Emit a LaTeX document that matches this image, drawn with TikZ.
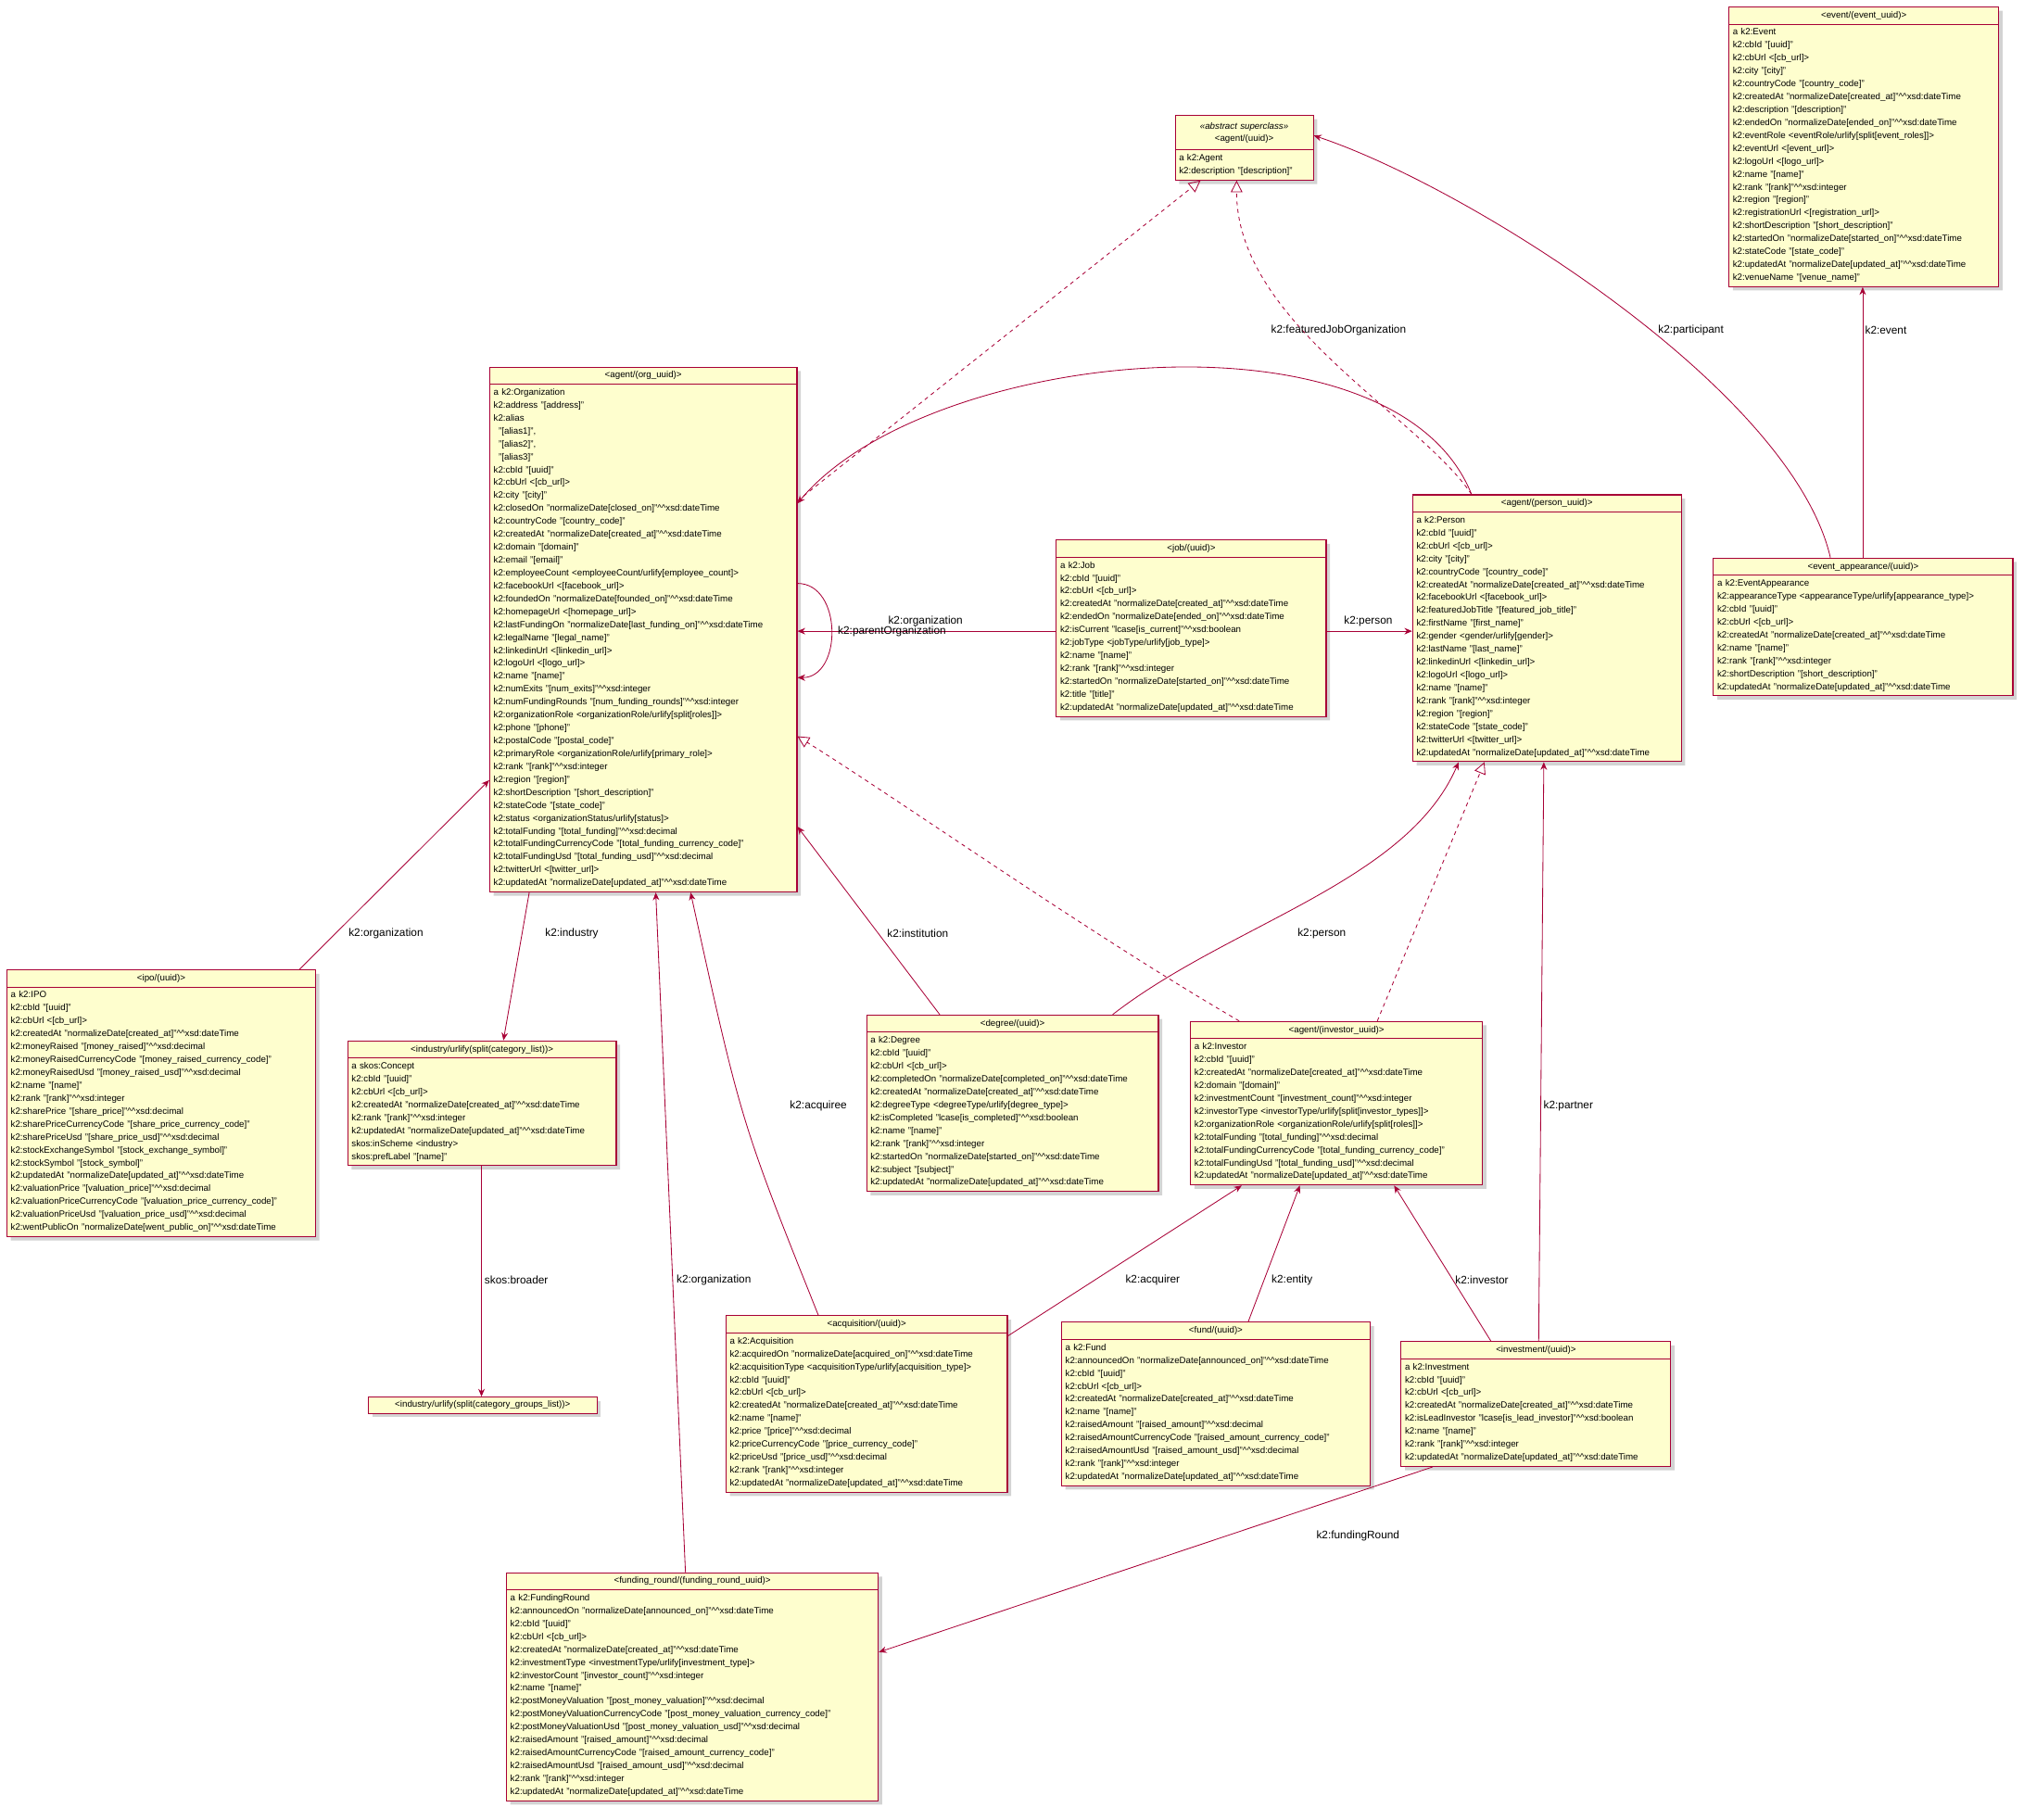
\documentclass[tikz,border=0pt]{standalone}
\usepackage{fontspec}
\setmainfont{Liberation Sans}
\usetikzlibrary{shapes.multipart,arrows.meta,shadows,calc}
\definecolor{cfill}{HTML}{FEFECE}
\definecolor{bord}{HTML}{A80036}
\catcode`\_=12
\catcode`\^=12
\newcommand\umlbox[6]{%
  \node[cls, text width=#4pt-6pt] (#1) at (#2,#3) {\makebox[\hsize][c]{#5}\nodepart{two}#6};}
\tikzset{
  cls/.style={rectangle split, rectangle split parts=2, draw=bord, fill=cfill, line width=0.8pt,
    anchor=north west, font=\fontsize{7}{10}\selectfont, inner xsep=3pt, inner ysep=3pt,
    execute at begin node=\setlength\parindent{0pt},
    drop shadow={opacity=0.35, shadow xshift=3pt, shadow yshift=-3pt}},
  assoc/.style={draw=bord, line width=0.6pt, -{Stealth[length=6pt,width=5pt]}},
  gen/.style={draw=bord, line width=0.6pt, dashed, -{Triangle[open,length=9pt,width=9pt]}},
  lbl/.style={font=\fontsize{8.5}{10}\selectfont, inner sep=1pt}
}
\begin{document}
\begin{tikzpicture}[x=1pt,y=-1pt]
\useasboundingbox (0,0) rectangle (1568,1410);

\umlbox{event}{1339}{5}{209}{<event/(event_uuid)>}{a k2:Event\\
k2:cbId "[uuid]"\\
k2:cbUrl <[cb_url]>\\
k2:city "[city]"\\
k2:countryCode "[country_code]"\\
k2:createdAt "normalizeDate[created_at]"^^xsd:dateTime\\
k2:description "[description]"\\
k2:endedOn "normalizeDate[ended_on]"^^xsd:dateTime\\
k2:eventRole <eventRole/urlify[split[event_roles]]>\\
k2:eventUrl <[event_url]>\\
k2:logoUrl <[logo_url]>\\
k2:name "[name]"\\
k2:rank "[rank]"^^xsd:integer\\
k2:region "[region]"\\
k2:registrationUrl <[registration_url]>\\
k2:shortDescription "[short_description]"\\
k2:startedOn "normalizeDate[started_on]"^^xsd:dateTime\\
k2:stateCode "[state_code]"\\
k2:updatedAt "normalizeDate[updated_at]"^^xsd:dateTime\\
k2:venueName "[venue_name]"}

\umlbox{abs}{910}{89}{107}{\begin{tabular}{@{}c@{}}\textit{«abstract superclass»}\\<agent/(uuid)>\end{tabular}}{a k2:Agent\\
k2:description "[description]"}

\umlbox{org}{379}{284}{238}{<agent/(org_uuid)>}{a k2:Organization\\
k2:address "[address]"\\
k2:alias\\
\hspace*{4pt}"[alias1]",\\
\hspace*{4pt}"[alias2]",\\
\hspace*{4pt}"[alias3]"\\
k2:cbId "[uuid]"\\
k2:cbUrl <[cb_url]>\\
k2:city "[city]"\\
k2:closedOn "normalizeDate[closed_on]"^^xsd:dateTime\\
k2:countryCode "[country_code]"\\
k2:createdAt "normalizeDate[created_at]"^^xsd:dateTime\\
k2:domain "[domain]"\\
k2:email "[email]"\\
k2:employeeCount <employeeCount/urlify[employee_count]>\\
k2:facebookUrl <[facebook_url]>\\
k2:foundedOn "normalizeDate[founded_on]"^^xsd:dateTime\\
k2:homepageUrl <[homepage_url]>\\
k2:lastFundingOn "normalizeDate[last_funding_on]"^^xsd:dateTime\\
k2:legalName "[legal_name]"\\
k2:linkedinUrl <[linkedin_url]>\\
k2:logoUrl <[logo_url]>\\
k2:name "[name]"\\
k2:numExits "[num_exits]"^^xsd:integer\\
k2:numFundingRounds "[num_funding_rounds]"^^xsd:integer\\
k2:organizationRole <organizationRole/urlify[split[roles]]>\\
k2:phone "[phone]"\\
k2:postalCode "[postal_code]"\\
k2:primaryRole <organizationRole/urlify[primary_role]>\\
k2:rank "[rank]"^^xsd:integer\\
k2:region "[region]"\\
k2:shortDescription "[short_description]"\\
k2:stateCode "[state_code]"\\
k2:status <organizationStatus/urlify[status]>\\
k2:totalFunding "[total_funding]"^^xsd:decimal\\
k2:totalFundingCurrencyCode "[total_funding_currency_code]"\\
k2:totalFundingUsd "[total_funding_usd]"^^xsd:decimal\\
k2:twitterUrl <[twitter_url]>\\
k2:updatedAt "normalizeDate[updated_at]"^^xsd:dateTime}

\umlbox{job}{818}{418}{209}{<job/(uuid)>}{a k2:Job\\
k2:cbId "[uuid]"\\
k2:cbUrl <[cb_url]>\\
k2:createdAt "normalizeDate[created_at]"^^xsd:dateTime\\
k2:endedOn "normalizeDate[ended_on]"^^xsd:dateTime\\
k2:isCurrent "lcase[is_current]"^^xsd:boolean\\
k2:jobType <jobType/urlify[job_type]>\\
k2:name "[name]"\\
k2:rank "[rank]"^^xsd:integer\\
k2:startedOn "normalizeDate[started_on]"^^xsd:dateTime\\
k2:title "[title]"\\
k2:updatedAt "normalizeDate[updated_at]"^^xsd:dateTime}

\umlbox{person}{1094}{383}{208}{<agent/(person_uuid)>}{a k2:Person\\
k2:cbId "[uuid]"\\
k2:cbUrl <[cb_url]>\\
k2:city "[city]"\\
k2:countryCode "[country_code]"\\
k2:createdAt "normalizeDate[created_at]"^^xsd:dateTime\\
k2:facebookUrl <[facebook_url]>\\
k2:featuredJobTitle "[featured_job_title]"\\
k2:firstName "[first_name]"\\
k2:gender <gender/urlify[gender]>\\
k2:lastName "[last_name]"\\
k2:linkedinUrl <[linkedin_url]>\\
k2:logoUrl <[logo_url]>\\
k2:name "[name]"\\
k2:rank "[rank]"^^xsd:integer\\
k2:region "[region]"\\
k2:stateCode "[state_code]"\\
k2:twitterUrl <[twitter_url]>\\
k2:updatedAt "normalizeDate[updated_at]"^^xsd:dateTime}

\umlbox{evapp}{1327}{432}{232}{<event_appearance/(uuid)>}{a k2:EventAppearance\\
k2:appearanceType <appearanceType/urlify[appearance_type]>\\
k2:cbId "[uuid]"\\
k2:cbUrl <[cb_url]>\\
k2:createdAt "normalizeDate[created_at]"^^xsd:dateTime\\
k2:name "[name]"\\
k2:rank "[rank]"^^xsd:integer\\
k2:shortDescription "[short_description]"\\
k2:updatedAt "normalizeDate[updated_at]"^^xsd:dateTime}

\umlbox{ipo}{5}{751}{239}{<ipo/(uuid)>}{a k2:IPO\\
k2:cbId "[uuid]"\\
k2:cbUrl <[cb_url]>\\
k2:createdAt "normalizeDate[created_at]"^^xsd:dateTime\\
k2:moneyRaised "[money_raised]"^^xsd:decimal\\
k2:moneyRaisedCurrencyCode "[money_raised_currency_code]"\\
k2:moneyRaisedUsd "[money_raised_usd]"^^xsd:decimal\\
k2:name "[name]"\\
k2:rank "[rank]"^^xsd:integer\\
k2:sharePrice "[share_price]"^^xsd:decimal\\
k2:sharePriceCurrencyCode "[share_price_currency_code]"\\
k2:sharePriceUsd "[share_price_usd]"^^xsd:decimal\\
k2:stockExchangeSymbol "[stock_exchange_symbol]"\\
k2:stockSymbol "[stock_symbol]"\\
k2:updatedAt "normalizeDate[updated_at]"^^xsd:dateTime\\
k2:valuationPrice "[valuation_price]"^^xsd:decimal\\
k2:valuationPriceCurrencyCode "[valuation_price_currency_code]"\\
k2:valuationPriceUsd "[valuation_price_usd]"^^xsd:decimal\\
k2:wentPublicOn "normalizeDate[went_public_on]"^^xsd:dateTime}

\umlbox{ind}{269}{806}{208}{<industry/urlify(split(category_list))>}{a skos:Concept\\
k2:cbId "[uuid]"\\
k2:cbUrl <[cb_url]>\\
k2:createdAt "normalizeDate[created_at]"^^xsd:dateTime\\
k2:rank "[rank]"^^xsd:integer\\
k2:updatedAt "normalizeDate[updated_at]"^^xsd:dateTime\\
skos:inScheme <industry>\\
skos:prefLabel "[name]"}

\node[draw=bord, fill=cfill, line width=0.8pt, anchor=north west, font=\fontsize{7}{10}\selectfont,
  inner xsep=3pt, inner ysep=3pt, minimum width=177pt,
  drop shadow={opacity=0.35, shadow xshift=3pt, shadow yshift=-3pt}] (indg) at (285,1082)
  {<industry/urlify(split(category_groups_list))>};

\umlbox{deg}{671}{786}{226}{<degree/(uuid)>}{a k2:Degree\\
k2:cbId "[uuid]"\\
k2:cbUrl <[cb_url]>\\
k2:completedOn "normalizeDate[completed_on]"^^xsd:dateTime\\
k2:createdAt "normalizeDate[created_at]"^^xsd:dateTime\\
k2:degreeType <degreeType/urlify[degree_type]>\\
k2:isCompleted "lcase[is_completed]"^^xsd:boolean\\
k2:name "[name]"\\
k2:rank "[rank]"^^xsd:integer\\
k2:startedOn "normalizeDate[started_on]"^^xsd:dateTime\\
k2:subject "[subject]"\\
k2:updatedAt "normalizeDate[updated_at]"^^xsd:dateTime}

\umlbox{inv}{922}{791}{226}{<agent/(investor_uuid)>}{a k2:Investor\\
k2:cbId "[uuid]"\\
k2:createdAt "normalizeDate[created_at]"^^xsd:dateTime\\
k2:domain "[domain]"\\
k2:investmentCount "[investment_count]"^^xsd:integer\\
k2:investorType <investorType/urlify[split[investor_types]]>\\
k2:organizationRole <organizationRole/urlify[split[roles]]>\\
k2:totalFunding "[total_funding]"^^xsd:decimal\\
k2:totalFundingCurrencyCode "[total_funding_currency_code]"\\
k2:totalFundingUsd "[total_funding_usd]"^^xsd:decimal\\
k2:updatedAt "normalizeDate[updated_at]"^^xsd:dateTime}

\umlbox{acq}{562}{1019}{218}{<acquisition/(uuid)>}{a k2:Acquisition\\
k2:acquiredOn "normalizeDate[acquired_on]"^^xsd:dateTime\\
k2:acquisitionType <acquisitionType/urlify[acquisition_type]>\\
k2:cbId "[uuid]"\\
k2:cbUrl <[cb_url]>\\
k2:createdAt "normalizeDate[created_at]"^^xsd:dateTime\\
k2:name "[name]"\\
k2:price "[price]"^^xsd:decimal\\
k2:priceCurrencyCode "[price_currency_code]"\\
k2:priceUsd "[price_usd]"^^xsd:decimal\\
k2:rank "[rank]"^^xsd:integer\\
k2:updatedAt "normalizeDate[updated_at]"^^xsd:dateTime}

\umlbox{fund}{822}{1024}{239}{<fund/(uuid)>}{a k2:Fund\\
k2:announcedOn "normalizeDate[announced_on]"^^xsd:dateTime\\
k2:cbId "[uuid]"\\
k2:cbUrl <[cb_url]>\\
k2:createdAt "normalizeDate[created_at]"^^xsd:dateTime\\
k2:name "[name]"\\
k2:raisedAmount "[raised_amount]"^^xsd:decimal\\
k2:raisedAmountCurrencyCode "[raised_amount_currency_code]"\\
k2:raisedAmountUsd "[raised_amount_usd]"^^xsd:decimal\\
k2:rank "[rank]"^^xsd:integer\\
k2:updatedAt "normalizeDate[updated_at]"^^xsd:dateTime}

\umlbox{invm}{1085}{1039}{209}{<investment/(uuid)>}{a k2:Investment\\
k2:cbId "[uuid]"\\
k2:cbUrl <[cb_url]>\\
k2:createdAt "normalizeDate[created_at]"^^xsd:dateTime\\
k2:isLeadInvestor "lcase[is_lead_investor]"^^xsd:boolean\\
k2:name "[name]"\\
k2:rank "[rank]"^^xsd:integer\\
k2:updatedAt "normalizeDate[updated_at]"^^xsd:dateTime}

\umlbox{fr}{392}{1218}{288}{<funding_round/(funding_round_uuid)>}{a k2:FundingRound\\
k2:announcedOn "normalizeDate[announced_on]"^^xsd:dateTime\\
k2:cbId "[uuid]"\\
k2:cbUrl <[cb_url]>\\
k2:createdAt "normalizeDate[created_at]"^^xsd:dateTime\\
k2:investmentType <investmentType/urlify[investment_type]>\\
k2:investorCount "[investor_count]"^^xsd:integer\\
k2:name "[name]"\\
k2:postMoneyValuation "[post_money_valuation]"^^xsd:decimal\\
k2:postMoneyValuationCurrencyCode "[post_money_valuation_currency_code]"\\
k2:postMoneyValuationUsd "[post_money_valuation_usd]"^^xsd:decimal\\
k2:raisedAmount "[raised_amount]"^^xsd:decimal\\
k2:raisedAmountCurrencyCode "[raised_amount_currency_code]"\\
k2:raisedAmountUsd "[raised_amount_usd]"^^xsd:decimal\\
k2:rank "[rank]"^^xsd:integer\\
k2:updatedAt "normalizeDate[updated_at]"^^xsd:dateTime}

% generalizations
\draw[gen] ([yshift=-104pt]org.north east) -- ([xshift=20pt]abs.south west);
\draw[gen] ([xshift=46pt]person.north west) .. controls +(-40,-60) and +(0,110) .. ([xshift=48pt]abs.south west);
\draw[gen] ([xshift=38pt]inv.north west) .. controls +(-120,-70) and +(80,50) .. ([yshift=121pt]org.south east);
\draw[gen] ([xshift=145pt]inv.north west) -- ([xshift=56pt]person.south west);

% associations
\draw[assoc] ([xshift=46pt]person.north west) .. controls +(-60,-150) and +(100,-120) .. ([yshift=-106pt]org.north east);
\draw[assoc] ([xshift=91pt]evapp.north west) .. controls +(-30,-130) and +(120,40) .. ([yshift=-16pt]abs.north east);
\draw[assoc] ([xshift=116pt]evapp.north west) -- ([xshift=116pt]evapp.north west |- event.south);
\draw[assoc] ([yshift=-168pt]org.north east) .. controls +(35,0) and +(35,0) .. ([yshift=-241pt]org.north east);
\draw[assoc] ([yshift=-71pt]job.north west) -- ([yshift=-71pt]job.north west -| org.east);
\draw[assoc] ([yshift=-71pt]job.north east) -- ([yshift=-71pt]job.north east -| person.west);
\draw[assoc] ([xshift=227pt]ipo.north west) -- ([yshift=87pt]org.south west);
\draw[assoc] ([xshift=31pt]org.south west) -- ([xshift=121pt]ind.north west);
\draw[assoc] ([xshift=104pt]ind.south west) -- ([xshift=104pt]ind.south west |- indg.north);
\draw[assoc] ([xshift=57pt]deg.north west) -- ([yshift=51pt]org.south east);
\draw[assoc] ([xshift=191pt]deg.north west) .. controls +(90,-70) and +(-40,93) .. ([xshift=36pt]person.south west);
\draw[assoc] ([xshift=72pt]acq.north west) .. controls +(-60,-150) .. ([xshift=156pt]org.south west);
\draw[assoc] ([xshift=139pt]fr.north west) -- ([xshift=129pt]org.south west);
\draw[assoc] ([yshift=-16pt]acq.north east) -- ([xshift=40pt]inv.south west);
\draw[assoc] ([xshift=145pt]fund.north west) -- ([xshift=85pt]inv.south west);
\draw[assoc] ([xshift=70pt]invm.north west) -- ([xshift=158pt]inv.south west);
\draw[assoc] ([xshift=107pt]invm.north west) -- ([xshift=102pt]person.south west);
\draw[assoc] ([xshift=25pt]invm.south west) -- ([yshift=-62pt]fr.north east);

% labels
\node[lbl] (l1) at (1037,256) {k2:featuredJobOrganization};
\node[lbl] (l2) at (1310,256) {k2:participant};
\node[lbl] (l3) at (1461,256) {k2:event};
\node[lbl] (l4) at (717,481) {k2:organization};
\node[lbl] (l5) at (691,489) {k2:parentOrganization};
\node[lbl] (l6) at (1060,481) {k2:person};
\node[lbl] (l7) at (299,723) {k2:organization};
\node[lbl] (l8) at (443,723) {k2:industry};
\node[lbl] (l9) at (711,723) {k2:institution};
\node[lbl] (l10) at (1024,723) {k2:person};
\node[lbl] (l11) at (634,857) {k2:acquiree};
\node[lbl] (l12) at (1215,857) {k2:partner};
\node[lbl] (l13) at (400,992) {skos:broader};
\node[lbl] (l14) at (553,992) {k2:organization};
\node[lbl] (l15) at (893,992) {k2:acquirer};
\node[lbl] (l16) at (1001,992) {k2:entity};
\node[lbl] (l17) at (1148,992) {k2:investor};
\node[lbl] (l18) at (1052,1190) {k2:fundingRound};
\end{tikzpicture}
\end{document}
